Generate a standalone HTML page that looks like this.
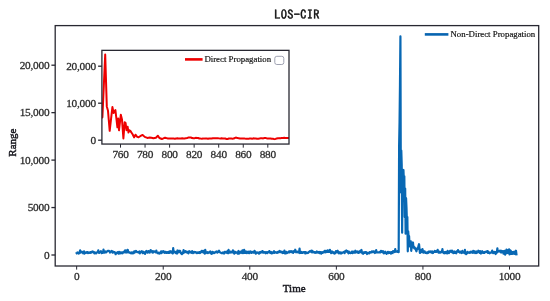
<!DOCTYPE html>
<html><head><meta charset="utf-8"><title>LOS-CIR</title><style>
html,body{margin:0;padding:0;background:#fff;}
body{width:550px;height:301px;overflow:hidden;}
svg{display:block;}
.tk{font-family:"Liberation Serif",serif;font-size:11.3px;letter-spacing:-0.25px;fill:#2b2b2b;stroke:#2b2b2b;stroke-width:0.28px;}
.lab{font-family:"Liberation Serif",serif;font-size:11px;font-weight:normal;fill:#15151c;stroke:#15151c;stroke-width:0.45px;}
.lg{font-family:"Liberation Serif",serif;font-size:8.8px;fill:#141414;stroke:#141414;stroke-width:0.2px;}
.ttl{font-family:"IPAGothic","Liberation Mono",monospace;font-size:12.4px;letter-spacing:0.3px;fill:#0c0c0c;stroke:#0c0c0c;stroke-width:0.45px;}
</style></head><body>
<svg width="550" height="301" viewBox="0 0 550 301">
<defs>
<clipPath id="cm"><rect x="55.2" y="25.6" width="483.50000000000006" height="240.4"/></clipPath>
<clipPath id="ci"><rect x="101.9" y="50.35" width="187.1" height="93.70000000000002"/></clipPath>
</defs>
<rect width="550" height="301" fill="#fff"/>
<text x="297" y="18.6" text-anchor="middle" class="ttl">LOS-CIR</text>
<polyline clip-path="url(#cm)" points="76.65,253.11 77.08,252.82 77.52,252.42 77.95,253.19 78.38,253.24 78.81,253.55 79.25,252.99 79.68,252.02 80.11,250.43 80.55,252.69 80.98,252.20 81.41,251.86 81.84,251.56 82.28,252.27 82.71,252.23 83.14,253.25 83.58,252.94 84.01,251.41 84.44,253.65 84.87,252.69 85.31,252.45 85.74,252.76 86.17,252.86 86.61,252.23 87.04,252.06 87.47,252.09 87.90,253.23 88.34,252.41 88.77,252.94 89.20,252.84 89.64,252.45 90.07,252.26 90.50,252.14 90.93,252.89 91.37,251.98 91.80,251.72 92.23,251.66 92.67,251.48 93.10,252.35 93.53,252.43 93.96,252.00 94.40,253.40 94.83,252.57 95.26,252.94 95.70,252.72 96.13,253.39 96.56,252.85 96.99,252.37 97.43,251.92 97.86,251.95 98.29,250.38 98.73,252.69 99.16,252.96 99.59,252.12 100.02,252.39 100.46,251.87 100.89,251.25 101.32,252.29 101.76,253.11 102.19,252.69 102.62,252.94 103.05,252.67 103.49,249.66 103.92,251.67 104.35,252.71 104.79,251.60 105.22,251.38 105.65,252.31 106.08,252.37 106.52,252.01 106.95,251.51 107.38,251.20 107.82,250.83 108.25,250.81 108.68,250.89 109.11,250.88 109.55,251.35 109.98,252.59 110.41,251.68 110.85,251.26 111.28,251.55 111.71,250.90 112.14,251.90 112.58,252.60 113.01,251.54 113.44,252.12 113.88,252.42 114.31,252.06 114.74,252.10 115.17,252.63 115.61,254.24 116.04,253.14 116.47,252.90 116.91,253.16 117.34,252.57 117.77,252.15 118.20,253.23 118.64,253.65 119.07,251.79 119.50,253.06 119.94,253.33 120.37,252.39 120.80,252.31 121.23,253.06 121.67,252.33 122.10,253.08 122.53,253.25 122.96,252.43 123.40,251.84 123.83,252.40 124.26,251.68 124.70,251.87 125.13,250.29 125.56,252.46 125.99,251.45 126.43,252.42 126.86,252.52 127.29,249.96 127.73,249.78 128.16,251.43 128.59,251.92 129.02,252.51 129.46,252.69 129.89,252.45 130.32,252.84 130.76,252.72 131.19,253.41 131.62,252.89 132.05,252.28 132.49,252.68 132.92,253.38 133.35,253.08 133.79,253.12 134.22,251.26 134.65,252.54 135.08,251.28 135.52,251.60 135.95,250.91 136.38,251.31 136.82,251.99 137.25,252.16 137.68,252.11 138.11,252.14 138.55,252.59 138.98,252.35 139.41,251.45 139.85,253.32 140.28,252.07 140.71,252.52 141.14,251.69 141.58,251.23 142.01,251.84 142.44,251.61 142.88,253.24 143.31,251.90 143.74,252.94 144.17,252.22 144.61,252.41 145.04,253.89 145.47,252.70 145.91,251.95 146.34,250.99 146.77,251.61 147.20,251.65 147.64,252.73 148.07,251.27 148.50,251.13 148.94,252.05 149.37,251.96 149.80,252.54 150.23,251.03 150.67,250.06 151.10,251.35 151.53,251.18 151.97,251.66 152.40,252.49 152.83,251.07 153.26,252.48 153.70,251.94 154.13,251.76 154.56,251.48 155.00,251.72 155.43,251.70 155.86,252.38 156.29,250.64 156.73,252.20 157.16,252.72 157.59,253.05 158.03,253.00 158.46,252.57 158.89,253.42 159.32,253.25 159.76,253.53 160.19,252.55 160.62,252.38 161.06,251.32 161.49,253.10 161.92,252.44 162.35,251.40 162.79,252.03 163.22,252.18 163.65,251.15 164.09,252.39 164.52,252.83 164.95,252.80 165.38,251.74 165.82,251.73 166.25,252.81 166.68,252.81 167.12,252.17 167.55,252.26 167.98,252.95 168.41,252.07 168.85,251.84 169.28,252.88 169.71,251.77 170.15,251.17 170.58,251.67 171.01,252.64 171.44,251.79 171.88,251.48 172.31,251.23 172.74,253.44 173.18,248.22 173.61,252.68 174.04,251.54 174.47,251.54 174.91,251.82 175.34,252.32 175.77,252.99 176.21,251.87 176.64,252.56 177.07,253.56 177.50,250.48 177.94,251.64 178.37,250.89 178.80,252.28 179.24,250.79 179.67,250.73 180.10,250.95 180.53,252.20 180.97,253.24 181.40,252.89 181.83,254.10 182.27,253.69 182.70,252.50 183.13,253.03 183.56,250.21 184.00,252.59 184.43,251.33 184.86,251.44 185.30,251.95 185.73,251.15 186.16,252.42 186.59,252.44 187.03,251.97 187.46,251.80 187.89,252.80 188.33,253.32 188.76,252.33 189.19,251.21 189.62,252.30 190.06,251.57 190.49,252.20 190.92,252.48 191.36,252.74 191.79,251.45 192.22,251.17 192.65,252.42 193.09,253.15 193.52,252.25 193.95,252.66 194.39,251.86 194.82,252.11 195.25,252.18 195.68,252.08 196.12,252.76 196.55,252.56 196.98,253.18 197.42,252.36 197.85,252.95 198.28,252.32 198.71,252.89 199.15,252.32 199.58,252.06 200.01,253.01 200.45,252.51 200.88,252.42 201.31,251.35 201.74,250.81 202.18,251.37 202.61,252.09 203.04,250.98 203.48,252.56 203.91,250.82 204.34,252.18 204.77,253.65 205.21,249.75 205.64,251.56 206.07,253.03 206.50,252.25 206.94,252.37 207.37,252.18 207.80,253.15 208.24,252.83 208.67,252.28 209.10,252.49 209.53,251.99 209.97,252.69 210.40,251.47 210.83,253.27 211.27,252.71 211.70,253.87 212.13,253.39 212.56,251.85 213.00,253.13 213.43,252.29 213.86,252.57 214.30,253.00 214.73,252.43 215.16,252.38 215.59,252.31 216.03,251.64 216.46,251.77 216.89,251.45 217.33,252.72 217.76,252.01 218.19,252.21 218.62,251.60 219.06,250.74 219.49,251.82 219.92,252.32 220.36,252.38 220.79,252.81 221.22,252.96 221.65,253.18 222.09,252.98 222.52,253.09 222.95,252.45 223.39,253.07 223.82,252.90 224.25,253.48 224.68,251.91 225.12,252.64 225.55,251.92 225.98,252.41 226.42,251.90 226.85,252.78 227.28,252.14 227.71,250.97 228.15,253.24 228.58,249.89 229.01,251.78 229.45,252.50 229.88,252.15 230.31,251.62 230.74,252.53 231.18,251.79 231.61,252.47 232.04,252.34 232.48,252.37 232.91,250.42 233.34,252.42 233.77,252.50 234.21,253.67 234.64,251.59 235.07,251.92 235.51,252.10 235.94,252.77 236.37,252.68 236.80,252.35 237.24,252.45 237.67,253.67 238.10,252.23 238.54,250.92 238.97,253.69 239.40,252.08 239.83,252.48 240.27,252.69 240.70,251.66 241.13,253.00 241.57,252.21 242.00,251.62 242.43,250.36 242.86,253.07 243.30,252.73 243.73,252.94 244.16,249.86 244.60,253.00 245.03,251.83 245.46,252.86 245.89,251.47 246.33,251.74 246.76,253.19 247.19,251.89 247.63,252.79 248.06,252.68 248.49,251.66 248.92,253.26 249.36,253.17 249.79,251.60 250.22,252.27 250.66,251.39 251.09,252.15 251.52,252.97 251.95,252.62 252.39,251.92 252.82,252.07 253.25,252.58 253.69,251.55 254.12,252.69 254.55,250.83 254.98,251.72 255.42,252.94 255.85,253.65 256.28,253.25 256.72,252.44 257.15,252.35 257.58,252.67 258.01,252.93 258.45,252.56 258.88,253.61 259.31,253.44 259.75,252.21 260.18,252.92 260.61,252.35 261.04,251.78 261.48,252.03 261.91,252.34 262.34,251.09 262.78,251.96 263.21,252.58 263.64,251.91 264.07,252.01 264.51,252.65 264.94,252.05 265.37,252.19 265.81,253.26 266.24,252.20 266.67,252.24 267.10,252.33 267.54,253.04 267.97,252.23 268.40,251.93 268.84,251.75 269.27,251.04 269.70,251.64 270.13,252.97 270.57,252.65 271.00,251.99 271.43,253.36 271.87,253.35 272.30,252.39 272.73,253.05 273.16,252.69 273.60,252.03 274.03,251.20 274.46,252.84 274.90,251.94 275.33,252.15 275.76,252.49 276.19,252.67 276.63,252.86 277.06,252.19 277.49,252.74 277.93,251.99 278.36,251.73 278.79,252.36 279.22,251.84 279.66,250.89 280.09,251.55 280.52,252.03 280.96,251.73 281.39,252.39 281.82,251.94 282.25,251.86 282.69,253.02 283.12,252.72 283.55,251.93 283.99,252.86 284.42,250.55 284.85,253.39 285.28,253.42 285.72,253.35 286.15,251.82 286.58,253.16 287.02,252.98 287.45,252.75 287.88,252.38 288.31,251.92 288.75,252.29 289.18,251.34 289.61,252.37 290.05,251.45 290.48,251.76 290.91,251.21 291.34,252.15 291.78,251.38 292.21,251.46 292.64,251.73 293.08,252.94 293.51,251.24 293.94,251.89 294.37,251.82 294.81,251.67 295.24,249.73 295.67,251.38 296.10,252.35 296.54,252.17 296.97,251.53 297.40,251.74 297.84,252.18 298.27,252.38 298.70,252.56 299.13,251.39 299.57,248.55 300.00,253.03 300.43,251.70 300.87,252.13 301.30,252.80 301.73,251.93 302.16,253.00 302.60,252.97 303.03,252.61 303.46,252.09 303.90,252.07 304.33,252.27 304.76,252.07 305.19,253.50 305.63,252.09 306.06,253.19 306.49,252.69 306.93,252.50 307.36,252.91 307.79,253.04 308.22,252.82 308.66,252.19 309.09,251.73 309.52,251.55 309.96,251.18 310.39,251.70 310.82,251.54 311.25,250.73 311.69,252.30 312.12,250.69 312.55,251.95 312.99,252.39 313.42,251.99 313.85,251.81 314.28,252.41 314.72,252.20 315.15,252.83 315.58,252.17 316.02,251.99 316.45,252.55 316.88,251.48 317.31,252.08 317.75,252.08 318.18,252.70 318.61,252.45 319.05,251.95 319.48,253.17 319.91,252.02 320.34,252.14 320.78,252.18 321.21,253.63 321.64,252.49 322.08,252.12 322.51,252.97 322.94,252.44 323.37,252.30 323.81,251.57 324.24,251.98 324.67,250.88 325.11,252.35 325.54,250.93 325.97,251.54 326.40,251.04 326.84,252.09 327.27,251.93 327.70,250.25 328.14,251.91 328.57,251.72 329.00,251.40 329.43,251.88 329.87,249.77 330.30,250.85 330.73,252.47 331.17,253.15 331.60,251.49 332.03,251.52 332.46,251.78 332.90,251.75 333.33,253.06 333.76,252.76 334.20,253.50 334.63,253.56 335.06,252.20 335.49,253.06 335.93,251.16 336.36,252.08 336.79,252.15 337.23,251.19 337.66,250.76 338.09,251.88 338.52,253.28 338.96,252.68 339.39,252.24 339.82,253.30 340.26,253.42 340.69,252.34 341.12,252.75 341.55,253.34 341.99,252.81 342.42,252.94 342.85,252.34 343.29,252.50 343.72,251.97 344.15,252.16 344.58,253.20 345.02,251.64 345.45,250.90 345.88,250.87 346.32,250.53 346.75,251.60 347.18,252.06 347.61,251.20 348.05,252.52 348.48,253.31 348.91,251.64 349.35,252.74 349.78,252.57 350.21,253.17 350.64,253.00 351.08,252.71 351.51,252.08 351.94,251.60 352.38,253.15 352.81,251.51 353.24,252.70 353.67,252.67 354.11,251.63 354.54,251.95 354.97,252.68 355.41,250.72 355.84,252.32 356.27,251.81 356.70,251.98 357.14,251.45 357.57,252.66 358.00,251.92 358.44,252.89 358.87,251.67 359.30,252.52 359.73,252.15 360.17,250.87 360.60,251.88 361.03,252.15 361.47,249.99 361.90,252.32 362.33,253.20 362.76,252.53 363.20,253.77 363.63,252.46 364.06,252.24 364.50,252.94 364.93,252.65 365.36,252.00 365.79,252.12 366.23,252.92 366.66,252.34 367.09,254.05 367.53,253.22 367.96,253.18 368.39,253.03 368.82,252.61 369.26,253.34 369.69,252.10 370.12,252.31 370.56,252.38 370.99,252.63 371.42,252.40 371.85,251.44 372.29,252.19 372.72,251.69 373.15,251.32 373.59,251.57 374.02,251.47 374.45,252.62 374.88,253.05 375.32,251.78 375.75,252.13 376.18,250.18 376.62,252.49 377.05,252.01 377.48,252.33 377.91,252.40 378.35,252.42 378.78,252.35 379.21,252.33 379.64,252.22 380.08,251.65 380.51,252.32 380.94,250.84 381.38,251.76 381.81,251.18 382.24,252.00 382.67,252.34 383.11,251.25 383.54,252.71 383.97,253.35 384.41,253.12 384.84,253.01 385.27,251.75 385.70,253.02 386.14,252.73 386.57,253.87 387.00,253.00 387.44,252.65 387.87,251.84 388.30,253.14 388.73,252.28 389.17,252.28 389.60,252.86 390.03,252.20 390.47,252.36 390.90,253.64 391.33,252.09 391.76,252.18 392.20,252.67 392.63,252.99 393.06,251.14 393.50,251.65 393.93,251.16 394.36,250.95 394.79,252.06 395.23,249.13 395.66,251.74 396.09,251.57 396.53,251.63 396.96,251.71 397.39,251.22 397.82,251.93 398.26,251.96 398.69,252.15 399.12,144.92 399.56,122.14 399.99,84.18 400.42,36.45 400.85,192.37 401.29,150.61 401.72,164.84 402.15,232.70 402.59,169.59 403.02,171.49 403.45,170.06 403.88,180.98 404.32,176.23 404.75,217.04 405.18,188.57 405.62,233.65 406.05,198.06 406.48,207.55 406.91,221.78 407.35,217.04 407.78,251.30 408.21,231.28 408.65,237.92 409.08,236.02 409.51,244.56 409.94,246.46 410.38,243.61 410.81,241.43 411.24,250.82 411.68,246.46 412.11,247.41 412.54,245.51 412.97,242.47 413.41,247.41 413.84,246.46 414.27,248.36 414.71,247.41 415.14,248.83 415.57,248.36 416.00,250.25 416.44,251.30 416.87,249.31 417.30,248.36 417.74,248.83 418.17,247.41 418.60,245.51 419.03,244.18 419.47,248.36 419.90,253.01 420.33,250.25 420.77,251.20 421.20,249.90 421.63,252.05 422.06,252.12 422.50,249.12 422.93,251.23 423.36,252.63 423.80,252.56 424.23,251.31 424.66,251.40 425.09,252.62 425.53,252.88 425.96,252.60 426.39,252.56 426.83,253.19 427.26,252.29 427.69,253.03 428.12,252.94 428.56,251.59 428.99,252.34 429.42,251.87 429.86,251.45 430.29,251.40 430.72,252.15 431.15,252.05 431.59,252.66 432.02,251.29 432.45,251.99 432.89,253.02 433.32,252.37 433.75,251.90 434.18,251.92 434.62,250.97 435.05,250.99 435.48,251.84 435.92,251.38 436.35,251.94 436.78,251.06 437.21,251.20 437.65,249.86 438.08,251.43 438.51,252.73 438.95,252.02 439.38,251.76 439.81,252.74 440.24,252.59 440.68,252.22 441.11,251.66 441.54,251.84 441.98,252.23 442.41,249.19 442.84,252.18 443.27,252.32 443.71,253.01 444.14,252.81 444.57,252.05 445.01,253.32 445.44,252.41 445.87,252.00 446.30,252.72 446.74,252.52 447.17,253.41 447.60,250.82 448.04,252.04 448.47,252.27 448.90,253.09 449.33,252.45 449.77,251.18 450.20,250.75 450.63,251.58 451.07,251.06 451.50,252.16 451.93,250.60 452.36,252.02 452.80,251.91 453.23,253.10 453.66,251.71 454.10,251.46 454.53,252.83 454.96,252.92 455.39,251.93 455.83,252.46 456.26,253.33 456.69,251.33 457.13,251.47 457.56,251.63 457.99,250.05 458.42,251.25 458.86,251.97 459.29,251.74 459.72,252.60 460.16,251.54 460.59,252.08 461.02,252.81 461.45,252.99 461.89,252.00 462.32,250.88 462.75,252.60 463.19,252.65 463.62,252.56 464.05,251.95 464.48,252.83 464.92,249.84 465.35,253.74 465.78,253.51 466.22,254.18 466.65,253.41 467.08,252.62 467.51,251.80 467.95,252.83 468.38,252.39 468.81,252.57 469.24,252.71 469.68,252.80 470.11,251.88 470.54,252.72 470.98,251.61 471.41,251.75 471.84,252.28 472.27,252.60 472.71,252.82 473.14,250.90 473.57,252.68 474.01,251.05 474.44,251.71 474.87,252.40 475.30,252.97 475.74,251.79 476.17,251.47 476.60,253.03 477.04,252.61 477.47,251.64 477.90,251.77 478.33,250.66 478.77,252.18 479.20,251.76 479.63,252.97 480.07,251.15 480.50,252.74 480.93,253.51 481.36,252.26 481.80,252.25 482.23,251.20 482.66,252.75 483.10,252.88 483.53,252.76 483.96,252.22 484.39,252.97 484.83,251.98 485.26,251.85 485.69,251.95 486.13,251.53 486.56,251.54 486.99,252.18 487.42,251.14 487.86,252.85 488.29,251.64 488.72,251.99 489.16,252.75 489.59,253.25 490.02,253.02 490.45,252.67 490.89,252.46 491.32,252.55 491.75,251.93 492.19,250.59 492.62,252.08 493.05,253.15 493.48,251.94 493.92,252.42 494.35,252.81 494.78,251.89 495.22,252.10 495.65,254.04 496.08,252.33 496.51,253.06 496.95,251.42 497.38,248.28 497.81,251.84 498.25,251.34 498.68,251.46 499.11,251.11 499.54,250.94 499.98,250.61 500.41,252.05 500.84,250.84 501.28,252.55 501.71,250.99 502.14,251.68 502.57,251.96 503.01,251.06 503.44,253.54 503.87,251.31 504.31,253.63 504.74,250.80 505.17,254.57 505.60,251.28 506.04,252.47 506.47,249.69 506.90,253.09 507.34,250.14 507.77,252.93 508.20,250.57 508.63,252.66 509.07,249.27 509.50,254.42 509.93,249.98 510.37,252.44 510.80,250.88 511.23,253.95 511.66,252.89 512.10,253.90 512.53,252.12 512.96,252.99 513.40,251.96 513.83,253.70 514.26,251.87 514.69,253.85 515.13,251.47 515.56,254.10 515.99,250.73 516.43,254.24" fill="none" stroke="#0868b4" stroke-width="2.2" stroke-linejoin="round" stroke-linecap="square"/>
<rect x="55.2" y="25.6" width="483.50" height="240.40" fill="none" stroke="#282832" stroke-width="1.3"/>
<line x1="76.65" y1="266.0" x2="76.65" y2="269.6" stroke="#282832" stroke-width="1.0"/>
<text x="76.65" y="280.3" text-anchor="middle" class="tk">0</text>
<line x1="163.22" y1="266.0" x2="163.22" y2="269.6" stroke="#282832" stroke-width="1.0"/>
<text x="163.22" y="280.3" text-anchor="middle" class="tk">200</text>
<line x1="249.79" y1="266.0" x2="249.79" y2="269.6" stroke="#282832" stroke-width="1.0"/>
<text x="249.79" y="280.3" text-anchor="middle" class="tk">400</text>
<line x1="336.36" y1="266.0" x2="336.36" y2="269.6" stroke="#282832" stroke-width="1.0"/>
<text x="336.36" y="280.3" text-anchor="middle" class="tk">600</text>
<line x1="422.93" y1="266.0" x2="422.93" y2="269.6" stroke="#282832" stroke-width="1.0"/>
<text x="422.93" y="280.3" text-anchor="middle" class="tk">800</text>
<line x1="509.50" y1="266.0" x2="509.50" y2="269.6" stroke="#282832" stroke-width="1.0"/>
<text x="509.50" y="280.3" text-anchor="middle" class="tk">1000</text>
<line x1="51.400000000000006" y1="255.00" x2="55.2" y2="255.00" stroke="#282832" stroke-width="1.3"/>
<text x="49.3" y="258.70" text-anchor="end" class="tk">0</text>
<line x1="51.400000000000006" y1="207.55" x2="55.2" y2="207.55" stroke="#282832" stroke-width="1.3"/>
<text x="49.3" y="211.25" text-anchor="end" class="tk">5000</text>
<line x1="51.400000000000006" y1="160.10" x2="55.2" y2="160.10" stroke="#282832" stroke-width="1.3"/>
<text x="49.3" y="163.80" text-anchor="end" class="tk">10,000</text>
<line x1="51.400000000000006" y1="112.65" x2="55.2" y2="112.65" stroke="#282832" stroke-width="1.3"/>
<text x="49.3" y="116.35" text-anchor="end" class="tk">15,000</text>
<line x1="51.400000000000006" y1="65.20" x2="55.2" y2="65.20" stroke="#282832" stroke-width="1.3"/>
<text x="49.3" y="68.90" text-anchor="end" class="tk">20,000</text>
<text x="294.2" y="292" text-anchor="middle" class="lab">Time</text>
<text transform="translate(16.2,142.6) rotate(-90)" text-anchor="middle" class="lab">Range</text>
<line x1="424.8" y1="34.4" x2="448.4" y2="34.4" stroke="#0764b0" stroke-width="2.6"/>
<text x="450.5" y="37.3" class="lg">Non-Direct Propagation</text>
<rect x="101.9" y="50.35" width="187.10" height="93.70" fill="#fff"/>
<polyline clip-path="url(#ci)" points="100.60,118.60 102.40,117.20 105.20,54.60 106.80,106.40 108.00,110.80 109.70,130.80 112.40,107.00 113.60,113.00 115.40,110.00 117.40,127.30 118.20,118.40 119.00,130.30 120.80,114.80 122.00,119.60 123.40,138.40 124.70,122.20 125.60,123.00 126.50,130.20 127.60,126.70 128.50,132.50 129.40,130.20 130.50,131.10 131.40,132.50 132.60,134.30 134.10,137.40 135.50,134.70 136.80,136.50 138.60,137.30 140.20,136.20 142.60,134.90 144.70,136.90 147.30,137.90 149.80,137.60 151.40,137.80 153.40,138.30 155.90,137.70 157.90,135.70 159.40,138.00 161.90,139.00 163.40,138.40 165.00,137.70 166.23,138.07 167.45,138.39 168.68,138.43 169.91,138.46 171.14,138.51 172.36,138.40 173.59,138.54 174.82,138.70 176.05,138.41 177.27,138.36 178.50,138.50 179.73,138.46 180.96,138.43 182.18,138.30 183.41,138.46 184.64,138.60 185.87,138.13 187.09,138.04 188.32,137.59 189.55,137.45 190.78,137.40 192.00,138.10 193.23,138.25 194.46,138.18 195.69,137.85 196.91,138.05 198.14,138.01 199.37,138.53 200.60,138.62 201.82,138.66 203.05,138.44 204.28,138.62 205.51,138.53 206.73,138.51 207.96,138.74 209.19,138.41 210.42,138.48 211.64,138.57 212.87,138.30 214.10,138.32 215.33,138.32 216.55,138.34 217.78,138.17 219.01,138.39 220.24,138.61 221.46,138.20 222.69,138.58 223.92,138.50 225.15,138.42 226.37,138.98 227.60,138.96 228.83,138.58 230.06,138.57 231.28,138.54 232.51,138.67 233.74,138.56 234.97,137.87 236.19,137.57 237.42,138.09 238.65,138.18 239.88,138.47 241.10,138.44 242.33,138.59 243.56,138.45 244.79,138.60 246.01,138.67 247.24,138.83 248.47,138.87 249.70,138.50 250.92,138.56 252.15,138.75 253.38,138.33 254.61,138.54 255.83,138.57 257.06,138.75 258.29,138.64 259.52,138.46 260.74,138.37 261.97,138.26 263.20,138.40 264.43,137.97 265.65,138.09 266.88,138.38 268.11,138.49 269.34,138.57 270.56,138.53 271.79,138.78 273.02,138.81 274.25,139.14 275.47,138.91 276.70,138.51 277.93,138.32 279.16,138.12 280.38,138.30 281.61,138.11 282.84,138.10 284.07,137.70 285.29,137.93 286.52,137.93 287.75,137.94 288.98,138.11 290.20,137.92 291.43,138.02" fill="none" stroke="#ee0000" stroke-width="2.0" stroke-linejoin="round"/>
<rect x="101.9" y="50.35" width="187.10" height="93.70" fill="none" stroke="#282832" stroke-width="1.3"/>
<line x1="120.50" y1="144.05" x2="120.50" y2="147.65" stroke="#282832" stroke-width="1.0"/>
<text x="120.50" y="158.4" text-anchor="middle" class="tk">760</text>
<line x1="145.05" y1="144.05" x2="145.05" y2="147.65" stroke="#282832" stroke-width="1.0"/>
<text x="145.05" y="158.4" text-anchor="middle" class="tk">780</text>
<line x1="169.60" y1="144.05" x2="169.60" y2="147.65" stroke="#282832" stroke-width="1.0"/>
<text x="169.60" y="158.4" text-anchor="middle" class="tk">800</text>
<line x1="194.15" y1="144.05" x2="194.15" y2="147.65" stroke="#282832" stroke-width="1.0"/>
<text x="194.15" y="158.4" text-anchor="middle" class="tk">820</text>
<line x1="218.70" y1="144.05" x2="218.70" y2="147.65" stroke="#282832" stroke-width="1.0"/>
<text x="218.70" y="158.4" text-anchor="middle" class="tk">840</text>
<line x1="243.25" y1="144.05" x2="243.25" y2="147.65" stroke="#282832" stroke-width="1.0"/>
<text x="243.25" y="158.4" text-anchor="middle" class="tk">860</text>
<line x1="267.80" y1="144.05" x2="267.80" y2="147.65" stroke="#282832" stroke-width="1.0"/>
<text x="267.80" y="158.4" text-anchor="middle" class="tk">880</text>
<line x1="98.10000000000001" y1="140.20" x2="101.9" y2="140.20" stroke="#282832" stroke-width="1.3"/>
<text x="95.8" y="143.90" text-anchor="end" class="tk">0</text>
<line x1="98.10000000000001" y1="103.20" x2="101.9" y2="103.20" stroke="#282832" stroke-width="1.3"/>
<text x="95.8" y="106.90" text-anchor="end" class="tk">10,000</text>
<line x1="98.10000000000001" y1="66.20" x2="101.9" y2="66.20" stroke="#282832" stroke-width="1.3"/>
<text x="95.8" y="69.90" text-anchor="end" class="tk">20,000</text>
<line x1="185" y1="59.4" x2="202.6" y2="59.4" stroke="#ee0000" stroke-width="2.6"/>
<text x="204.4" y="62.4" class="lg">Direct Propagation</text>
<rect x="274.8" y="56.3" width="9.0" height="8.2" rx="2" fill="none" stroke="#9fa2b2" stroke-width="1"/>
</svg>
</body></html>
